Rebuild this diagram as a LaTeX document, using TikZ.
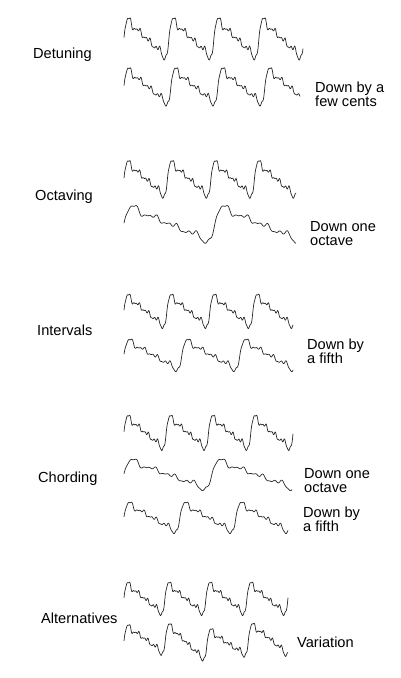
\documentclass[tikz,border=0pt]{standalone}
\usepackage{fontspec}
\newfontfamily\labelfont{Liberation Sans}
\usetikzlibrary{positioning}

\begin{document}
\begin{tikzpicture}[x=1pt,y=-1pt,
    wave/.style={black!85,line width=0.7pt,line join=round},
    lbl/.style={anchor=north west,inner sep=0pt,align=left,
      font=\labelfont\fontsize{14.6}{14}\selectfont},
    declare function={cyc(\u)=\u-floor(\u);
      tone(\u)=sin(360*cyc(\u))+sin(720*cyc(\u))/2+0.36*sin(1080*cyc(\u))
        +0.28*sin(1440*cyc(\u))+0.12*sin(3240*cyc(\u))+0.08*sin(5040*cyc(\u)+60);}]
  \useasboundingbox (0,0) rectangle (400,678);
  % centre / amplitude / period / length / variation
  \foreach \yc/\A/\T/\L/\v in {38.5/13.5/45/179/0, 86.5/12.3/47/176/0,
      179/12.1/43.5/172/0, 224/12.1/91/172/0,
      311/11/43/169/0, 355/10.4/58/169/0,
      432.5/11.3/42.3/169/0, 474.5/10.1/88/168/0, 517.5/10.1/56/164/0,
      598.5/10.7/41/164/0, 641.5/10.5/41.5/164/0.3}
    {\draw[wave] plot[domain=0:\L,samples=400]
      ({124+\x},{\yc-\A*(tone(\x/\T)+\v*sin(130/\T*\x))});}
  % labels
  \node[lbl] (det) at (33,48) {Detuning};
  \node[lbl] (detdown) at (315,82) {Down by a\\few cents};
  \node[lbl] (oct) at (35,190) {Octaving};
  \node[lbl] (octdown) at (310,221) {Down one\\octave};
  \node[lbl] (int) at (37,325) {Intervals};
  \node[lbl] (intdown) at (307,339) {Down by\\a fifth};
  \node[lbl] (chd) at (38,472) {Chording};
  \node[lbl] (chdoct) at (304,468) {Down one\\octave};
  \node[lbl] (chdfifth) at (303,507) {Down by\\a fifth};
  \node[lbl] (alt) at (41,613) {Alternatives};
  \node[lbl] (altvar) at (297,637) {Variation};
\end{tikzpicture}
\end{document}
